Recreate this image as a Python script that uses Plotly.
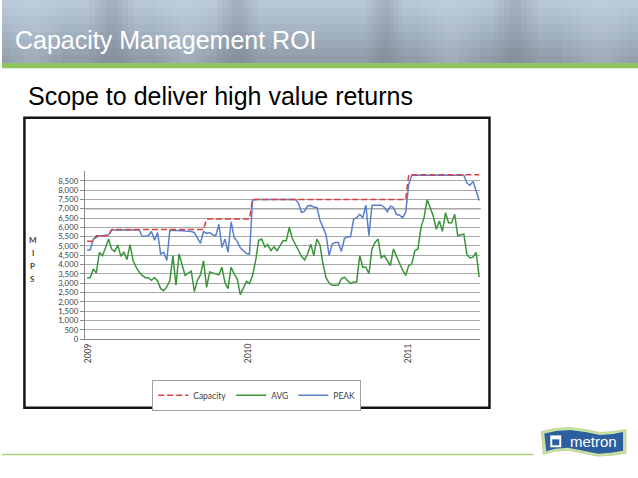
import plotly.graph_objects as go
import pandas as pd

W, H = 638, 478

# ---------------- data (weekly samples, MIPS) ----------------
weeks = pd.date_range("2008-12-29", periods=129, freq="7D")

capacity = ([5250] * 3 + [5550] * 5 + [5880] * 31 + [6450] * 15 +
            [7500] * 51 + [8830] * 24)

avg = [3300, 3300, 3770, 3550, 4660, 4480, 4900, 5370, 4830, 4700,
       5050, 4450, 4660, 4270, 5070, 4220, 3860, 3600, 3420, 3300,
       3300, 3160, 3300, 3120, 2710, 2600, 2800, 3150, 4480, 2890,
       4570, 4000, 3420, 3550, 3650, 2550, 3160, 3450, 4200, 2780,
       3600, 3550, 3500, 3450, 3860, 3030, 2710, 3860, 3500, 3240,
       2390, 2760, 3100, 2980, 3420, 4200, 5300, 5370, 4960, 5070,
       4750, 4960, 4750, 5020, 5280, 5280, 5990, 5400, 5100, 4750,
       4450, 4250, 4570, 5100, 4490, 5370, 5070, 4040, 3300, 3010,
       2890, 2890, 2900, 3240, 3330, 3150, 2980, 3070, 3070, 4490,
       3860, 3860, 3510, 4840, 5190, 5370, 4360, 4490, 4200, 3950,
       4840, 4500, 4070, 3700, 3420, 3950, 4040, 4750, 4840, 6000,
       6520, 7490, 7050, 6610, 5900, 6340, 5780, 6780, 6250, 6250,
       6700, 5550, 5600, 5640, 4540, 4360, 4400, 4660, 3330]

peak = ([4790, 4790, 5370, 5450, 5550, 5550, 5580, 5600] +
        [5860] * 10 +
        [5510, 5530, 5550, 5780, 5310, 5720, 4570, 4660, 4220, 5850,
         5850, 5850, 5820, 5820, 5800, 5800, 5780, 5720, 5450, 5140,
         5780, 5680, 5720, 5600, 5550, 6160, 4920, 5370, 4660, 6300,
         5460, 5250, 4900, 4750, 4600, 4570, 7450] +
        [7500] * 14 +
        [7300, 6800, 6870, 7150, 7180, 7080, 7080, 6400, 6000, 5600,
         4490, 5100, 5190, 5190, 4710, 5400, 5490, 5500, 6430, 6520,
         6700, 6520, 7190, 5550, 7190, 7190, 7190, 7190, 7080, 6840,
         7140, 7080, 6700, 6650, 6520, 6800, 8300] +
        [8800] * 18 +
        [8380, 8260, 8470, 7950, 7440])

y_ticks = list(range(0, 9000, 500))
y_tick_labels = [f"{v:,}" for v in y_ticks]
x_ticks = ["2009-01-01", "2010-01-01", "2011-01-01"]
x_tick_labels = ["2009", "2010", "2011"]
axis_letters = ["M", "I", "P", "S"]

title_text = "Capacity Management ROI"
subtitle_text = "Scope to deliver high value returns"


def px(x):
    return x / W


def py(y):
    return 1 - y / H


fig = go.Figure()
fig.add_trace(go.Scatter(x=weeks, y=peak, name="PEAK", mode="lines",
                         line=dict(color="#5a7fcb", width=1.5), legendrank=3))
fig.add_trace(go.Scatter(x=weeks, y=avg, name="AVG", mode="lines",
                         line=dict(color="#3a943a", width=1.5), legendrank=2))
fig.add_trace(go.Scatter(x=weeks, y=capacity, name="Capacity", mode="lines",
                         line=dict(color="#d7403d", width=1.5, dash="6px,3px"),
                         legendrank=1))

shapes = []
# title bar: horizontal gradient bands
band_colors = ["#b8c7d6", "#b3c2d1", "#adbccb", "#a7b6c5", "#a1b0bf",
               "#9ba9b7", "#95a2af", "#909ca8"]
bh = 64 / len(band_colors)
for k, c in enumerate(band_colors):
    shapes.append(dict(type="rect", xref="paper", yref="paper", layer="below",
                       x0=0, x1=1, y0=py(k * bh + bh + 0.5), y1=py(k * bh),
                       fillcolor=c, line=dict(width=0)))
# soft blurred vertical streaks (stacked translucent rects)
for cx, half, col in [(110, 22, "#6f777e"), (236, 20, "#6f777e"),
                      (384, 18, "#6f777e"), (515, 22, "#6f777e"),
                      (30, 30, "#d4e0ec"), (185, 30, "#d4e0ec"),
                      (450, 30, "#d4e0ec"), (600, 38, "#d4e0ec")]:
    for f in (1.0, 0.75, 0.5, 0.25):
        shapes.append(dict(type="rect", xref="paper", yref="paper", layer="below",
                           x0=px(cx - half * f), x1=px(cx + half * f),
                           y0=py(64), y1=py(0),
                           fillcolor=col, opacity=0.07, line=dict(width=0)))
# green band under the title bar
shapes.append(dict(type="rect", xref="paper", yref="paper", layer="below",
                   x0=0, x1=1, y0=py(69), y1=py(64),
                   fillcolor="#8dc55b", line=dict(width=0)))
# chart frame
shapes.append(dict(type="rect", xref="paper", yref="paper",
                   x0=px(22.5), x1=px(489), y0=py(412), y1=py(119),
                   line=dict(color="#151515", width=2.5)))
# darker 7,000 gridline
shapes.append(dict(type="line", xref="paper", yref="y",
                   x0=px(83), x1=px(480), y0=7000, y1=7000,
                   line=dict(color="#3a3a3a", width=1), layer="below"))
# bottom green rule
shapes.append(dict(type="line", xref="paper", yref="paper",
                   x0=0, x1=px(533), y0=py(459.3), y1=py(459.3),
                   line=dict(color="#a9cf7c", width=1.5)))


def path_from(points):
    return "M " + " L ".join(f"{px(a):.5f},{py(b):.5f}" for a, b in points) + " Z"


# logo flag
outer = [(541, 436), (555, 433), (570, 432), (585, 434), (600, 437), (614, 436),
         (626, 434), (626, 458), (612, 460), (598, 461), (583, 458),
         (568, 455), (555, 456), (543, 459)]
inner = [(544, 438), (556, 435.5), (570, 434.5), (585, 436.5), (600, 439.5),
         (613, 438.5), (623, 436.5), (623, 455.5), (611, 457.5), (598, 458.5),
         (583, 455.5), (568, 452.5), (555, 453.5), (546, 456)]
shapes.append(dict(type="path", xref="paper", yref="paper", path=path_from(outer),
                   fillcolor="#c9dfa6", line=dict(color="#b5d28a", width=0.8)))
shapes.append(dict(type="path", xref="paper", yref="paper", path=path_from(inner),
                   fillcolor="#2c5f9f", line=dict(width=0)))
shapes.append(dict(type="rect", xref="paper", yref="paper",
                   x0=px(550), x1=px(561), y0=py(452), y1=py(440),
                   fillcolor="#ffffff", line=dict(width=0)))
shapes.append(dict(type="rect", xref="paper", yref="paper",
                   x0=px(552), x1=px(559), y0=py(450), y1=py(444),
                   fillcolor="#2c5f9f", line=dict(width=0)))

annotations = [
    dict(x=px(11), y=py(40), xref="paper", yref="paper", xanchor="left",
         yanchor="middle", text=title_text, showarrow=False,
         font=dict(family="Liberation Sans, Arial", size=25, color="#ffffff")),
    dict(x=px(24), y=py(97), xref="paper", yref="paper", xanchor="left",
         yanchor="middle", text=subtitle_text, showarrow=False,
         font=dict(family="Liberation Sans, Arial", size=25, color="#000000")),
    dict(x=px(593), y=py(446), xref="paper", yref="paper", xanchor="center",
         yanchor="middle", text="metron", showarrow=False,
         font=dict(family="Liberation Sans, Arial", size=15, color="#ffffff")),
]
for k, letter in enumerate(axis_letters):
    annotations.append(dict(x=px(31), y=py(243 + 13 * k), xref="paper", yref="paper",
                            xanchor="center", yanchor="middle",
                            text=f"<b>{letter}</b>", showarrow=False,
                            font=dict(family="Lato, Liberation Sans", size=8,
                                      color="#404040")))

fig.update_layout(
    width=W, height=H,
    margin=dict(l=0, r=0, t=0, b=0),
    paper_bgcolor="#ffffff", plot_bgcolor="#ffffff",
    showlegend=True,
    legend=dict(orientation="h", x=px(255.5), xanchor="center",
                y=py(399.5), yanchor="middle",
                bordercolor="#a0a0a0", borderwidth=1, bgcolor="#ffffff",
                font=dict(family="Lato, Liberation Sans", size=8.5, color="#404040"),
                itemwidth=30, tracegroupgap=0),
    xaxis=dict(domain=[px(83), px(480)],
               range=["2008-12-23 12:00", "2011-06-16"],
               tickmode="array", tickvals=x_ticks, ticktext=x_tick_labels,
               tickangle=-90, showgrid=False, zeroline=False,
               showline=True, linecolor="#8a8a8a", linewidth=1, ticks="",
               tickfont=dict(family="Lato, Liberation Sans", size=8.5, color="#404040")),
    yaxis=dict(domain=[py(342.7), py(173.3)], range=[0, 9000],
               tickmode="array", tickvals=y_ticks, ticktext=y_tick_labels,
               showgrid=True, gridcolor="#a8a8a8", gridwidth=1, zeroline=False,
               showline=True, linecolor="#8a8a8a", linewidth=1,
               ticks="outside", ticklen=4, tickcolor="#8a8a8a",
               tickfont=dict(family="Lato, Liberation Sans", size=7.8, color="#404040")),
    shapes=shapes,
    annotations=annotations,
)

fig.write_html("out.html",
               config={"displayModeBar": False},
               post_script="document.body.style.margin='0';"
                           "document.body.style.overflow='hidden';")
